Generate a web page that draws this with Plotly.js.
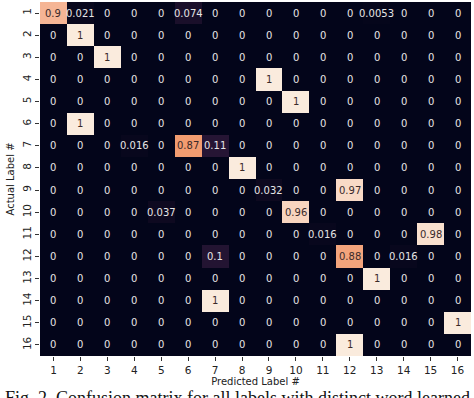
<!DOCTYPE html>
<html>
<head>
<meta charset="utf-8">
<script src="https://cdn.plot.ly/plotly-3.0.1.min.js"></script>
<style>html,body{margin:0;padding:0;background:#fff;}#chart{width:474px;height:398px;}</style>
</head>
<body>
<div id="chart"></div>
<script>
const labels = ["1","2","3","4","5","6","7","8","9","10","11","12","13","14","15","16"];
const row1  = [0.9,0.021,0,0,0,0.074,0,0,0,0,0,0,0.0053,0,0,0];
const row2  = [0,1,0,0,0,0,0,0,0,0,0,0,0,0,0,0];
const row3  = [0,0,1,0,0,0,0,0,0,0,0,0,0,0,0,0];
const row4  = [0,0,0,0,0,0,0,0,1,0,0,0,0,0,0,0];
const row5  = [0,0,0,0,0,0,0,0,0,1,0,0,0,0,0,0];
const row6  = [0,1,0,0,0,0,0,0,0,0,0,0,0,0,0,0];
const row7  = [0,0,0,0.016,0,0.87,0.11,0,0,0,0,0,0,0,0,0];
const row8  = [0,0,0,0,0,0,0,1,0,0,0,0,0,0,0,0];
const row9  = [0,0,0,0,0,0,0,0,0.032,0,0,0.97,0,0,0,0];
const row10 = [0,0,0,0,0.037,0,0,0,0,0.96,0,0,0,0,0,0];
const row11 = [0,0,0,0,0,0,0,0,0,0,0.016,0,0,0,0.98,0];
const row12 = [0,0,0,0,0,0,0.1,0,0,0,0,0.88,0,0.016,0,0];
const row13 = [0,0,0,0,0,0,0,0,0,0,0,0,1,0,0,0];
const row14 = [0,0,0,0,0,0,1,0,0,0,0,0,0,0,0,0];
const row15 = [0,0,0,0,0,0,0,0,0,0,0,0,0,0,0,1];
const row16 = [0,0,0,0,0,0,0,0,0,0,0,1,0,0,0,0];
const z = [row1,row2,row3,row4,row5,row6,row7,row8,row9,row10,row11,row12,row13,row14,row15,row16];
const caption = 'Fig. 2. Confusion matrix for all labels with distinct word learned';

const rocket = [
  [0.00,'#03051A'],[0.05,'#120B22'],[0.10,'#231432'],[0.20,'#451C47'],
  [0.30,'#6B1F56'],[0.40,'#921C5B'],[0.50,'#B91657'],[0.60,'#DC2C47'],
  [0.70,'#F06043'],[0.80,'#F4875E'],[0.87,'#F29C70'],[0.90,'#F5B595'],
  [0.95,'#F8CFB7'],[1.00,'#FAEBDD']
];

const annotations = [];
z.forEach((row, i) => {
  row.forEach((v, j) => {
    annotations.push({
      x: j, y: i, xref: 'x', yref: 'y',
      text: String(v), showarrow: false,
      font: {family: 'DejaVu Sans', size: 10, color: v > 0.5 ? '#3a2a2a' : '#e6e6e6'}
    });
  });
});
annotations.push({
  xref: 'paper', yref: 'paper', x: -0.086, y: -0.085, xanchor: 'left', yanchor: 'top',
  text: caption, showarrow: false,
  font: {family: 'Liberation Serif', size: 18, color: '#111'}
});

const trace = {
  type: 'heatmap', x: labels, y: labels, z: z,
  zmin: 0, zmax: 1, colorscale: rocket, showscale: false,
  hoverinfo: 'skip'
};

const layout = {
  width: 474, height: 398,
  margin: {l: 40, r: 3, t: 2, b: 42},
  paper_bgcolor: '#fff', plot_bgcolor: '#fff',
  font: {family: 'DejaVu Sans', size: 10, color: '#222'},
  xaxis: {
    type: 'category', ticks: 'outside', ticklen: 4, tickcolor: '#333',
    showgrid: false, zeroline: false, showline: false,
    tickfont: {size: 10.5}, title: {text: 'Predicted Label #', font: {size: 10}, standoff: 3}
  },
  yaxis: {
    type: 'category', autorange: 'reversed', ticks: 'outside', ticklen: 4, tickcolor: '#333',
    showgrid: false, zeroline: false, showline: false, tickangle: -90,
    tickfont: {size: 10.5}, title: {text: 'Actual Label #', font: {size: 10}, standoff: 4}
  },
  annotations: annotations
};

Plotly.newPlot('chart', [trace], layout, {staticPlot: true, displayModeBar: false});
</script>
</body>
</html>
